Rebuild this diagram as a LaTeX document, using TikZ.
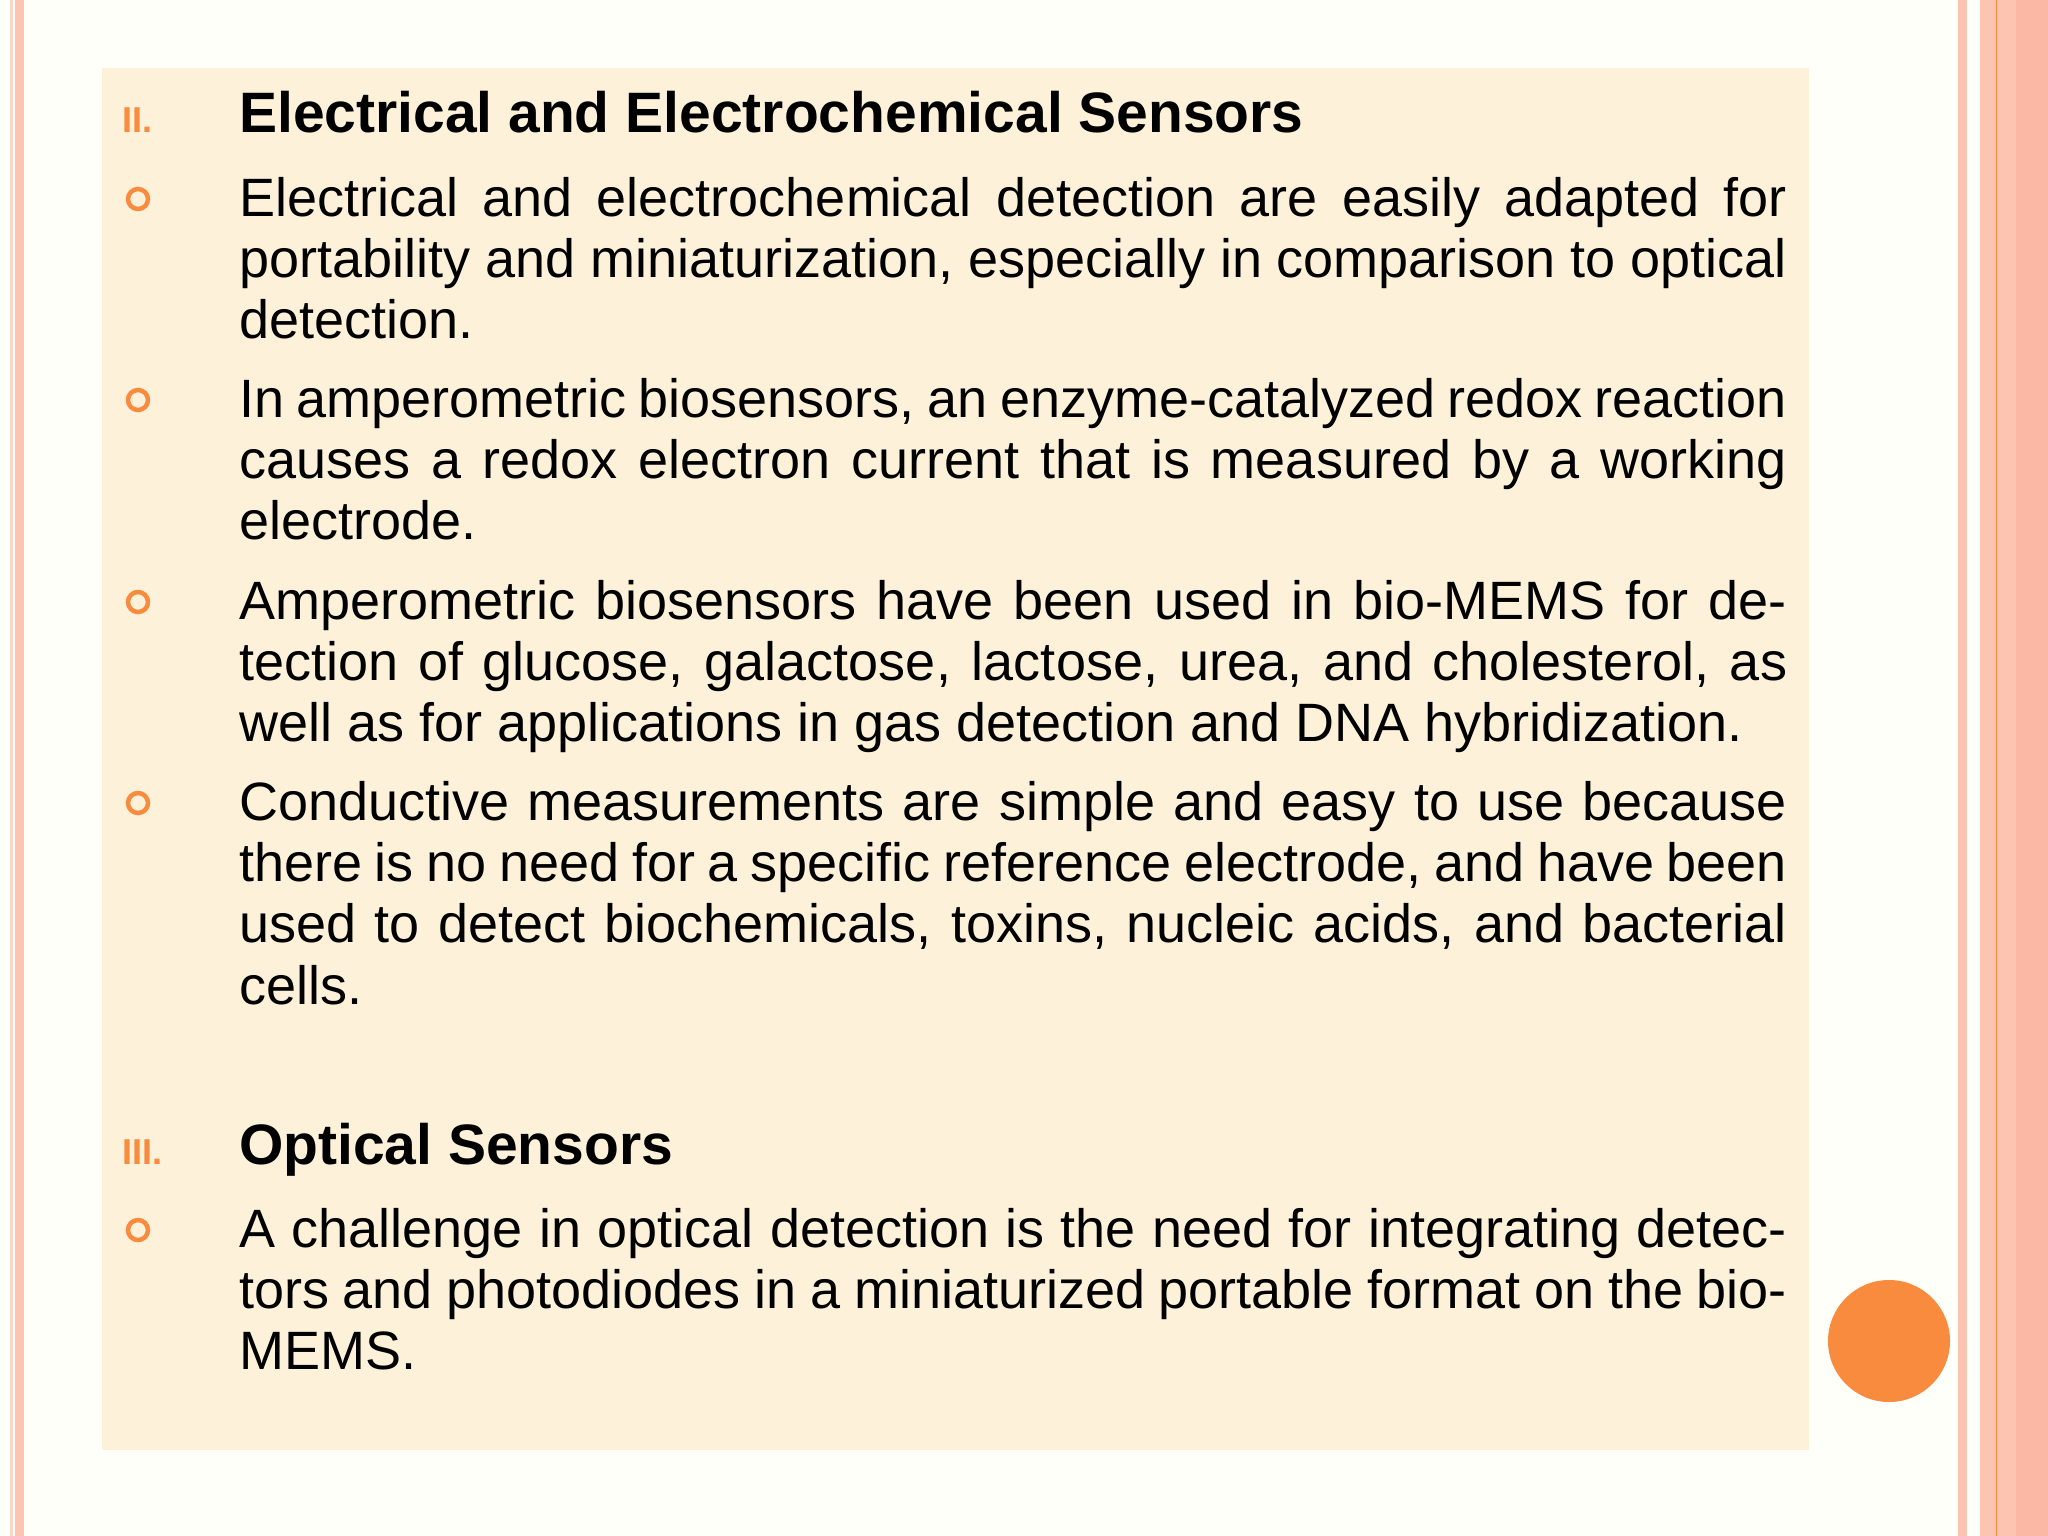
\documentclass[tikz,border=0pt]{standalone}
\usepackage{fontspec}
\setmainfont{Liberation Sans}
\definecolor{bgbox}{HTML}{FDF2D9}
\definecolor{org}{HTML}{F98B3E}
\definecolor{pink}{HTML}{FDC4B2}
\definecolor{pinkd}{HTML}{FBB9A5}
\begin{document}
\begin{tikzpicture}[x=1pt,y=-1pt,
  body/.style={anchor=base west,inner sep=0pt},
  bul/.style={draw=org,line width=4.5pt,circle,minimum size=20pt,inner sep=0pt},
  roman/.style={anchor=base west,inner sep=0pt,text=org,font=\fontsize{36}{40}\bfseries},
  head/.style={anchor=base west,inner sep=0pt,font=\fontsize{57}{64}\bfseries}]
\useasboundingbox (0,0) rectangle (2048,1536);
\fill[white!98!yellow] (0,0) rectangle (2048,1536);
% left stripes
\fill[pink!70] (10,0) rectangle (13,1536);
\fill[pink] (15,0) rectangle (24,1536);
% right stripes
\fill[pink] (1958,0) rectangle (1967,1536);
\fill[pink] (1980,0) rectangle (2048,1536);
\fill[pinkd] (2016,0) rectangle (2048,1536);
\draw[org,line width=1.5pt] (1996.5,0) -- (1996.5,1536);
% box
\fill[bgbox] (102,68) rectangle (1809,1450);
\node[fill=org,circle,minimum size=122pt,inner sep=0pt] (dot) at (1889,1341) {};
\newcommand{\para}[1]{\parbox[t]{1548pt}{\fontsize{54}{61.4}\selectfont\tolerance=9999\emergencystretch=40pt #1}}
\node[roman] (r2) at (122,133) {II.};
\node[head] (h2) at (239,133) {Electrical and Electrochemical Sensors};
\node[bul] (b1) at (138,199) {};
\node[body] (t1) at (239,216) {\para{Electrical and electrochemical detection are easily adapted for portability and miniaturization, especially in comparison to optical detection.}};
\node[bul] (b2) at (138,400) {};
\node[body] (t2) at (239,417) {\para{In amperometric biosensors, an enzyme-catalyzed redox reaction causes a redox electron current that is measured by a working electrode.}};
\node[bul] (b3) at (138,602) {};
\node[body] (t3) at (239,619) {\para{Amperometric biosensors have been used in bio-MEMS for detection of glucose, galactose, lactose, urea, and cholesterol, as well as for applications in gas detection and DNA hybridization.}};
\node[bul] (b4) at (138,803) {};
\node[body] (t4) at (239,820) {\para{Conductive measurements are simple and easy to use because there is no need for a specific reference electrode, and have been used to detect biochemicals, toxins, nucleic acids, and bacterial cells.}};
\node[roman] (r3) at (122,1164) {III.};
\node[head] (h3) at (239,1164) {Optical Sensors};
\node[bul] (b5) at (138,1230) {};
\node[body] (t5) at (239,1247) {\para{A challenge in optical detection is the need for integrating detectors and photodiodes in a miniaturized portable format on the bio-MEMS.}};
\end{tikzpicture}
\end{document}
